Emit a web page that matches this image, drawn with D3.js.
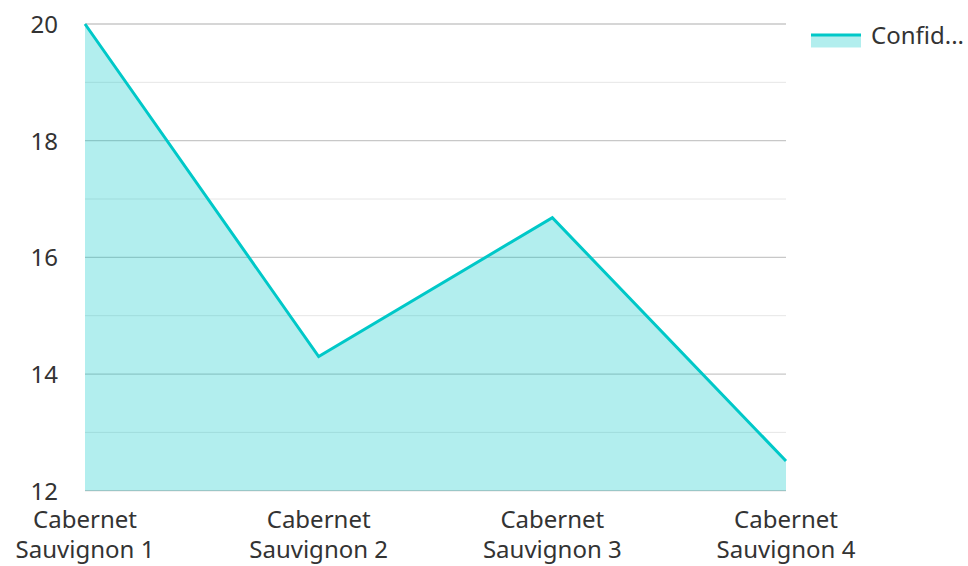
<!DOCTYPE html>
<html><head><meta charset="utf-8">
<script src="https://cdn.jsdelivr.net/npm/d3@7"></script>
<style>body{margin:0;background:#fff}text{font-family:"Noto Sans",sans-serif}</style>
</head><body><svg id="c" width="968" height="566"></svg>
<script>
const categories = ["Cabernet Sauvignon 1","Cabernet Sauvignon 2","Cabernet Sauvignon 3","Cabernet Sauvignon 4"];
const values = [20, 14.3, 16.68, 12.51];
const yTicks = [12,14,16,18,20];
const seriesName = "Confid...";

const svg = d3.select("#c");
const m = {l:85, r:786, t:24, b:490.7};
const x = d3.scalePoint().domain(categories).range([m.l, m.r]);
const y = d3.scaleLinear().domain([12,20]).range([m.b, m.t]);
const color = "#00c8c8";
const fs = 24;

const g = svg.append("g");
d3.range(13,20,2).forEach(v=>{
  g.append("line").attr("x1",m.l).attr("x2",m.r).attr("y1",y(v)).attr("y2",y(v)).attr("stroke","#e6e6e6").attr("stroke-width",1);
});
yTicks.forEach(v=>{
  g.append("line").attr("x1",m.l).attr("x2",m.r).attr("y1",y(v)).attr("y2",y(v)).attr("stroke","#c8c8c8").attr("stroke-width",1.3);
});

const data = categories.map((c,i)=>({c, v:values[i]}));
svg.append("path").datum(data)
  .attr("d", d3.area().x(d=>x(d.c)).y0(y(12)).y1(d=>y(d.v)))
  .attr("fill", color).attr("fill-opacity",0.3);
svg.append("path").datum(data)
  .attr("d", d3.line().x(d=>x(d.c)).y(d=>y(d.v)))
  .attr("fill","none").attr("stroke",color).attr("stroke-width",3).attr("stroke-linejoin","miter");

const yAxis = d3.axisLeft(y).tickValues(yTicks).tickSize(0).tickPadding(0);
const ya = svg.append("g").attr("transform",`translate(${m.l-27},0)`).call(yAxis);
ya.select(".domain").remove();
ya.selectAll("text").attr("font-size",fs).attr("fill","#333").attr("font-family","Noto Sans").attr("dy","0.35em");

const xa = svg.append("g");
categories.forEach(c=>{
  const parts = c.split(" ");
  const t = xa.append("text").attr("x",x(c)).attr("text-anchor","middle").attr("font-size",fs).attr("fill","#333");
  t.append("tspan").attr("x",x(c)).attr("y",528).text(parts[0]);
  t.append("tspan").attr("x",x(c)).attr("y",558).text(parts.slice(1).join(" "));
});

const lg = svg.append("g");
lg.append("rect").attr("x",811).attr("y",35).attr("width",50).attr("height",12.5).attr("fill",color).attr("fill-opacity",0.3);
lg.append("line").attr("x1",811).attr("x2",861).attr("y1",35).attr("y2",35).attr("stroke",color).attr("stroke-width",3);
lg.append("text").attr("x",871).attr("y",35.5).attr("dy","0.35em").attr("font-size",fs).attr("fill","#333").text(seriesName);
</script></body></html>
